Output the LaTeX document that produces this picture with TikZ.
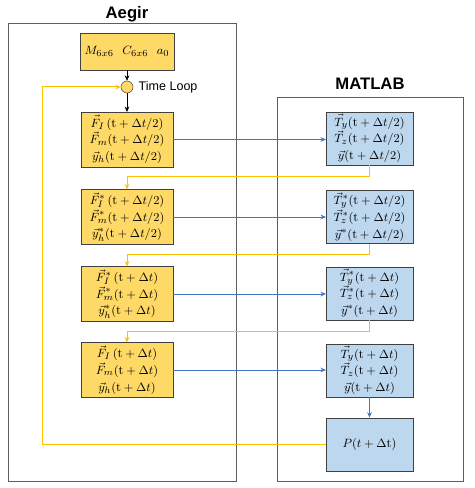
\documentclass[tikz,border=0pt]{standalone}
\usepackage{fontspec}
\setsansfont{Liberation Sans}
\usetikzlibrary{arrows.meta}
\definecolor{boxgold}{HTML}{FFD966}
\definecolor{boxblue}{HTML}{BDD7EE}
\definecolor{flowgold}{HTML}{FFC000}
\definecolor{flowblue}{HTML}{4472C4}
\definecolor{edge}{HTML}{404040}
\tikzset{
  aegirbox/.style={draw=edge, fill=boxgold, minimum width=69pt, minimum height=41pt,
    inner sep=0pt, align=center, font=\fontsize{9.3}{12.6}\selectfont},
  matbox/.style={draw=edge, fill=boxblue, minimum width=65pt, minimum height=40pt,
    inner sep=0pt, align=center, font=\fontsize{9.3}{12.6}\selectfont},
  frame/.style={draw=edge!85, line width=0.6pt},
  title/.style={font=\sffamily\bfseries\fontsize{12.5}{15}\selectfont},
  tip/.style={-{Stealth[length=4pt,width=3.5pt]}},
  yflow/.style={tip, draw=flowgold, line width=0.75pt},
  bflow/.style={tip, draw=flowblue, line width=0.7pt}
}
\begin{document}
\begin{tikzpicture}[x=0.75pt, y=-0.75pt]
  \useasboundingbox (0,0) rectangle (474,488);
  \draw[frame] (8,23) rectangle (236,481);
  \draw[frame] (277,97) rectangle (463,481);
  \node[title] (aegir) at (127,14) {Aegir};
  \node[title] (matlab) at (370,84) {MATLAB};

  \node[aegirbox, minimum width=70.5pt, minimum height=27.75pt] (init) at (127,51.5)
    {$M_{6x6}\ \ C_{6x6}\ \ a_0$};
  \node[circle, draw=edge, fill=boxgold, minimum size=9pt, inner sep=0pt] (loop) at (127,87) {};
  \node[anchor=west, font=\sffamily\fontsize{9.4}{11}\selectfont] (looplbl) at (134,87) {Time Loop};

  \node[aegirbox] (a1) at (127,139.5) {$\vec{F}_I\,(\mathrm{t}+\Delta t/2)$\\ $\vec{F}_m(\mathrm{t}+\Delta t/2)$\\ $\vec{y}_h(\mathrm{t}+\Delta t/2)$};
  \node[aegirbox] (a2) at (127,217) {$\vec{F}_I^*\,(\mathrm{t}+\Delta t/2)$\\ $\vec{F}_m^*(\mathrm{t}+\Delta t/2)$\\ $\vec{y}_h^*(\mathrm{t}+\Delta t/2)$};
  \node[aegirbox] (a3) at (127,294) {$\vec{F}_I^*\,(\mathrm{t}+\Delta t)$\\ $\vec{F}_m^*(\mathrm{t}+\Delta t)$\\ $\vec{y}_h^*(\mathrm{t}+\Delta t)$};
  \node[aegirbox] (a4) at (127,370) {$\vec{F}_I\,(\mathrm{t}+\Delta t)$\\ $\vec{F}_m(\mathrm{t}+\Delta t)$\\ $\vec{y}_h(\mathrm{t}+\Delta t)$};

  \node[matbox] (m1) at (369.5,138.5) {$\vec{T}_y(\mathrm{t}+\Delta t/2)$\\ $\vec{T}_z(\mathrm{t}+\Delta t/2)$\\ $\vec{y}(\mathrm{t}+\Delta t/2)$};
  \node[matbox] (m2) at (369.5,217) {$\vec{T}_y^*(\mathrm{t}+\Delta t/2)$\\ $\vec{T}_z^*(\mathrm{t}+\Delta t/2)$\\ $\vec{y}^*(\mathrm{t}+\Delta t/2)$};
  \node[matbox] (m3) at (369.5,293.5) {$\vec{T}_y^*(\mathrm{t}+\Delta t)$\\ $\vec{T}_z^*(\mathrm{t}+\Delta t)$\\ $\vec{y}^*(\mathrm{t}+\Delta t)$};
  \node[matbox] (m4) at (369.5,370.5) {$\vec{T}_y(\mathrm{t}+\Delta t)$\\ $\vec{T}_z(\mathrm{t}+\Delta t)$\\ $\vec{y}(\mathrm{t}+\Delta t)$};
  \node[matbox] (mp) at (369.5,444.5) {$P(t+\Delta\mathrm{t})$};

  \draw[tip, draw=black] (init) -- (loop);
  \draw[tip, draw=black] (loop) -- (a1);
  \foreach \i in {1,...,4}
    \draw[bflow] (a\i.east) -- (a\i.east -| m\i.west);
  \foreach \i/\j in {1/2,2/3,3/4}
    \draw[yflow] (m\i.south) -- ++(0,11) -| (a\j.north);
  \draw[bflow] (m4) -- (mp);
  \coordinate (back) at (42,444.5);
  \draw[yflow] (mp.west) -- (back) |- (loop.west);
\end{tikzpicture}
\end{document}
